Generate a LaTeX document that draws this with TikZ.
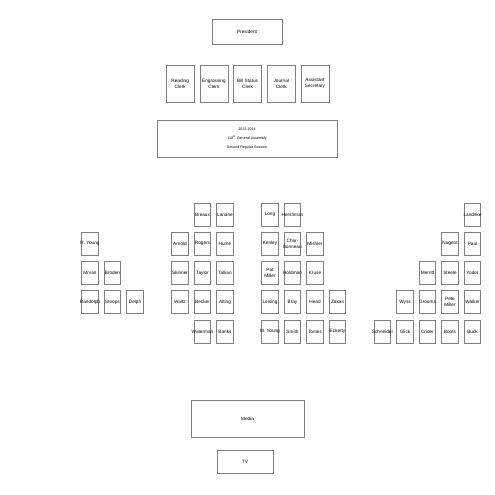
\documentclass[tikz,border=0pt]{standalone}
\usepackage{fontspec}
\setmainfont{Liberation Sans}
\usetikzlibrary{positioning}
\newcommand{\seatfont}{\fontsize{4}{5.1}\selectfont}
\newcommand{\sessionfont}{\fontsize{3.1}{7.4}\selectfont}

\begin{document}
\begin{tikzpicture}[x=0.8504pt, y=-0.8504pt, font=\seatfont,
        box/.style={draw=black!50, line width=0.5pt, inner sep=0pt, align=center},
        seat/.style={box, minimum width=14pt, minimum height=19.6pt},
        clerk/.style={box, minimum width=23.8pt, minimum height=31.5pt},
        every label/.style={align=center, inner sep=0pt}]
        \useasboundingbox (0,0) rectangle (495,495);

        \node[box, minimum width=59.5pt, minimum height=21.3pt] (president) at (247,31.5) {President};

        \foreach \key/\txt [count=\i from 0] in {reading/{Reading\\Clerk}, engrossing/{Engrossing\\Clerk},
                billstatus/{Bill Status\\Clerk}, journal/{Journal\\Clerk}, assistant/{Assistant\\Secretary}}
            \node[clerk] (\key) at ({180.2+33.7*\i}, 83.5) {\txt};

        \node[box, minimum width=153pt, minimum height=31.5pt, font=\sessionfont] (session) at (247,138.5)
            {2013-2014\\118\textsuperscript{th} General Assembly\\Second Regular Session};

        % seats: column / row on the floor grid
        \foreach \key/\txt/\c/\r in {ryoung/R. Young/0/1, mrvan/Mrvan/0/2, broden/Broden/1/2,
                randolph/Randolph/0/3, stoops/Stoops/1/3, delph/Delph/2/3}
            \node[seat, label=center:\txt] (\key) at ({90+22.5*\c}, {214.5+29.25*\r}) {};
        \foreach \key/\txt/\c/\r in {breaux/Breaux/5/0, lanane/Lanane/6/0,
                arnold/Arnold/4/1, rogers/Rogers/5/1, hume/Hume/6/1,
                skinner/Skinner/4/2, taylor/Taylor/5/2, tallian/Tallian/6/2,
                waltz/Waltz/4/3, becker/Becker/5/3, alting/Alting/6/3,
                waterman/Waterman/5/4, banks/Banks/6/4}
            \node[seat, label=center:\txt] (\key) at ({90+22.5*\c}, {214.5+29.25*\r}) {};
        \foreach \key/\txt/\c/\r in {long/Long/8/0, hershman/Hershman/9/0,
                kenley/Kenley/8/1, charbonneau/{Char-\\bonneau}/9/1, mishler/Mishler/10/1,
                patmiller/{Pat\\Miller}/8/2, holdman/Holdman/9/2, kruse/Kruse/10/2,
                leising/Leising/8/3, bray/Bray/9/3, head/Head/10/3, zakas/Zakas/11/3,
                myoung/M. Young/8/4, smith/Smith/9/4, tomes/Tomes/10/4, eckerty/Eckerty/11/4}
            \node[seat, label=center:\txt] (\key) at ({90+22.5*\c}, {214.5+29.25*\r}) {};
        \foreach \key/\txt/\c/\r in {landske/Landske/17/0,
                nugent/Nugent/16/1, paul/Paul/17/1,
                merritt/Merritt/15/2, steele/Steele/16/2, yoder/Yoder/17/2,
                wyss/Wyss/14/3, grooms/Grooms/15/3, petemiller/{Pete\\Miller}/16/3, walker/Walker/17/3,
                schneider/Schneider/13/4, glick/Glick/14/4, crider/Crider/15/4, boots/Boots/16/4, buck/Buck/17/4}
            \node[seat, label=center:\txt] (\key) at ({90+22.5*\c}, {214.5+29.25*\r}) {};

        \node[box, minimum width=96pt, minimum height=31.5pt] (media) at (247.5,418.5) {Media};
        \node[box, minimum width=47.6pt, minimum height=19.6pt] (tv) at (245,461.5) {TV};
    \end{tikzpicture}
\end{document}
